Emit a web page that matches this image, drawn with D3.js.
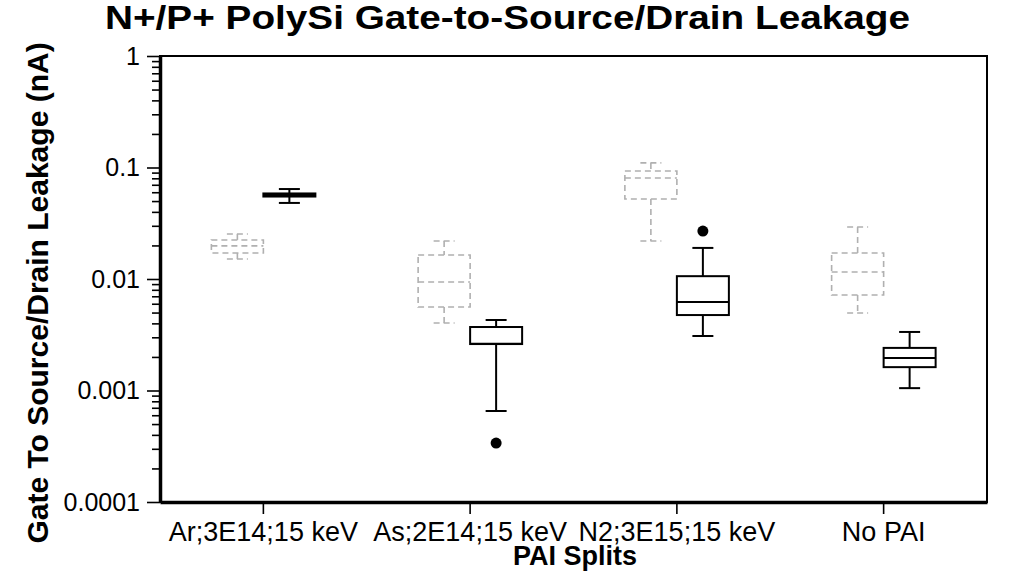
<!DOCTYPE html>
<html>
<head>
<meta charset="utf-8">
<script src="https://cdn.jsdelivr.net/npm/d3@7"></script>
<style>
  body { margin: 0; background: #fff; }
  svg { display: block; font-family: "Liberation Sans", Arial, sans-serif; }
</style>
</head>
<body>
<svg id="plot" width="1009" height="572"></svg>
<script>
const categories = ['Ar;3E14;15 keV', 'As;2E14;15 keV', 'N2;3E15;15 keV', 'No PAI'];
const yTickValues = [1, 0.1, 0.01, 0.001, 0.0001];
const yTickLabels = ['1', '0.1', '0.01', '0.001', '0.0001'];

// N+ gate (grey dashed boxes)
const nMin = [0.0151, 0.00403, 0.0219, 0.00496];
const nQ1  = [0.0171, 0.00561, 0.0522, 0.00719];
const nMed = [0.0198, 0.0094, 0.0805, 0.01155];
const nQ3  = [0.0224, 0.0164, 0.093, 0.0171];
const nMax = [0.0253, 0.0219, 0.110, 0.0293];

// P+ gate (black boxes)
const pMin = [0.0481, 0.000655, 0.00308, 0.00105];
const pQ1  = [0.0549, 0.00261, 0.00475, 0.00162];
const pMed = [0.0567, 0.00263, 0.00622, 0.00196];
const pQ3  = [0.0585, 0.00371, 0.0106, 0.00241];
const pMax = [0.0641, 0.00429, 0.0190, 0.00335];

// P+ outliers
const outlierCats = ['As;2E14;15 keV', 'N2;3E15;15 keV'];
const outlierVals = [0.000338, 0.0269];

const plot = d3.select('#plot');

const plotLeft = 160, plotRight = 987, plotTop = 56, plotBottom = 502;

const xScale = d3.scaleBand()
    .domain(categories)
    .range([plotLeft, plotRight]);

const yScale = d3.scaleLog()
    .domain([0.0001, 1])
    .range([plotBottom, plotTop]);

const bw = xScale.bandwidth();
const boxW = 52;
const capW = 21;
const offset = 26;

const nplus = categories.map((c, i) => ({cat: c, min: nMin[i], q1: nQ1[i], med: nMed[i], q3: nQ3[i], max: nMax[i]}));
const pplus = categories.map((c, i) => ({cat: c, min: pMin[i], q1: pQ1[i], med: pMed[i], q3: pQ3[i], max: pMax[i]}));

function drawBoxes(data, shift, stroke, width, dash, cls) {
  const g = plot.append('g').classed(cls, true)
      .attr('fill', 'none')
      .attr('stroke', stroke)
      .attr('stroke-width', width)
      .attr('stroke-dasharray', dash);

  const cx = d => xScale(d.cat) + bw / 2 + shift;

  // whiskers
  g.selectAll('.whisk-hi').data(data).join('line')
      .attr('class', 'whisk-hi')
      .attr('x1', cx).attr('x2', cx)
      .attr('y1', d => yScale(d.max)).attr('y2', d => yScale(d.q3));
  g.selectAll('.whisk-lo').data(data).join('line')
      .attr('class', 'whisk-lo')
      .attr('x1', cx).attr('x2', cx)
      .attr('y1', d => yScale(d.q1)).attr('y2', d => yScale(d.min));

  // caps
  ['max', 'min'].forEach(k => {
    g.selectAll('.cap-' + k).data(data).join('line')
        .attr('class', 'cap-' + k)
        .attr('x1', d => cx(d) - capW / 2).attr('x2', d => cx(d) + capW / 2)
        .attr('y1', d => yScale(d[k])).attr('y2', d => yScale(d[k]));
  });

  // boxes
  g.selectAll('rect').data(data).join('rect')
      .attr('x', d => cx(d) - boxW / 2)
      .attr('width', boxW)
      .attr('y', d => yScale(d.q3))
      .attr('height', d => yScale(d.q1) - yScale(d.q3))
      .attr('fill', 'white');

  // medians
  g.selectAll('.med').data(data).join('line')
      .attr('class', 'med')
      .attr('x1', d => cx(d) - boxW / 2).attr('x2', d => cx(d) + boxW / 2)
      .attr('y1', d => yScale(d.med)).attr('y2', d => yScale(d.med));
}

// frame
plot.append('rect')
    .attr('x', plotLeft).attr('y', plotTop)
    .attr('width', plotRight - plotLeft).attr('height', plotBottom - plotTop)
    .attr('fill', 'none')
    .attr('stroke', '#000')
    .attr('stroke-width', 2);

drawBoxes(nplus, -offset, '#b0b0b0', 1.6, '6,4', 'nplus');
drawBoxes(pplus, offset, '#000', 2, null, 'pplus');

plot.append('g').classed('outliers', true)
  .selectAll('circle').data(outlierVals).join('circle')
    .attr('cx', (d, i) => xScale(outlierCats[i]) + bw / 2 + offset)
    .attr('cy', d => yScale(d))
    .attr('r', 5.5)
    .attr('fill', '#000');

// y axis, major ticks
const yAxis = d3.axisLeft(yScale)
    .tickValues(yTickValues)
    .tickFormat((d, i) => yTickLabels[i])
    .tickSizeInner(13)
    .tickSizeOuter(0)
    .tickPadding(7);

plot.append('g')
    .classed('yAxis', true)
    .attr('transform', `translate(${plotLeft}, 0)`)
    .call(yAxis);

// y axis, minor ticks
const minor = yScale.ticks().filter(t => !yTickValues.some(v => Math.abs(v - t) < v * 1e-6));
const yAxisMinor = d3.axisLeft(yScale)
    .tickValues(minor)
    .tickFormat('')
    .tickSizeInner(8)
    .tickSizeOuter(0);

plot.append('g')
    .classed('yAxisMinor', true)
    .attr('transform', `translate(${plotLeft}, 0)`)
    .call(yAxisMinor);

plot.selectAll('.yAxis .tick line, .yAxisMinor .tick line')
    .attr('stroke-width', 1.6);
plot.select('.yAxis .domain').attr('stroke-width', 3.5);
plot.select('.yAxisMinor .domain').remove();
plot.selectAll('.yAxis text')
    .style('font-size', '25px')
    .style('font-family', '"Liberation Sans", Arial, sans-serif')
    .attr('fill', '#000');

// x axis
const xAxis = d3.axisBottom(xScale)
    .tickSizeInner(12)
    .tickSizeOuter(0);

plot.append('g')
    .classed('xAxis', true)
    .attr('transform', `translate(0, ${plotBottom})`)
    .call(xAxis);

plot.select('.xAxis .domain').attr('stroke-width', 3.5);
plot.selectAll('.xAxis .tick line').attr('stroke-width', 1.6);
plot.selectAll('.xAxis text')
    .attr('y', 20)
    .style('font-size', '27px')
    .style('font-family', '"Liberation Sans", Arial, sans-serif')
    .attr('fill', '#000');

// titles
plot.append('text')
    .classed('title', true)
    .attr('x', 105)
    .attr('y', 29)
    .attr('textLength', 805)
    .attr('lengthAdjust', 'spacingAndGlyphs')
    .style('font-size', '33px')
    .style('font-weight', 'bold')
    .text('N+/P+ PolySi Gate-to-Source/Drain Leakage');

plot.append('text')
    .attr('text-anchor', 'middle')
    .attr('transform', 'translate(48, 293) rotate(-90)')
    .style('font-size', '30px')
    .style('font-weight', 'bold')
    .text('Gate To Source/Drain Leakage (nA)');

plot.append('text')
    .attr('text-anchor', 'middle')
    .attr('x', 575)
    .attr('y', 565)
    .style('font-size', '27px')
    .style('font-weight', 'bold')
    .text('PAI Splits');
</script>
</body>
</html>
